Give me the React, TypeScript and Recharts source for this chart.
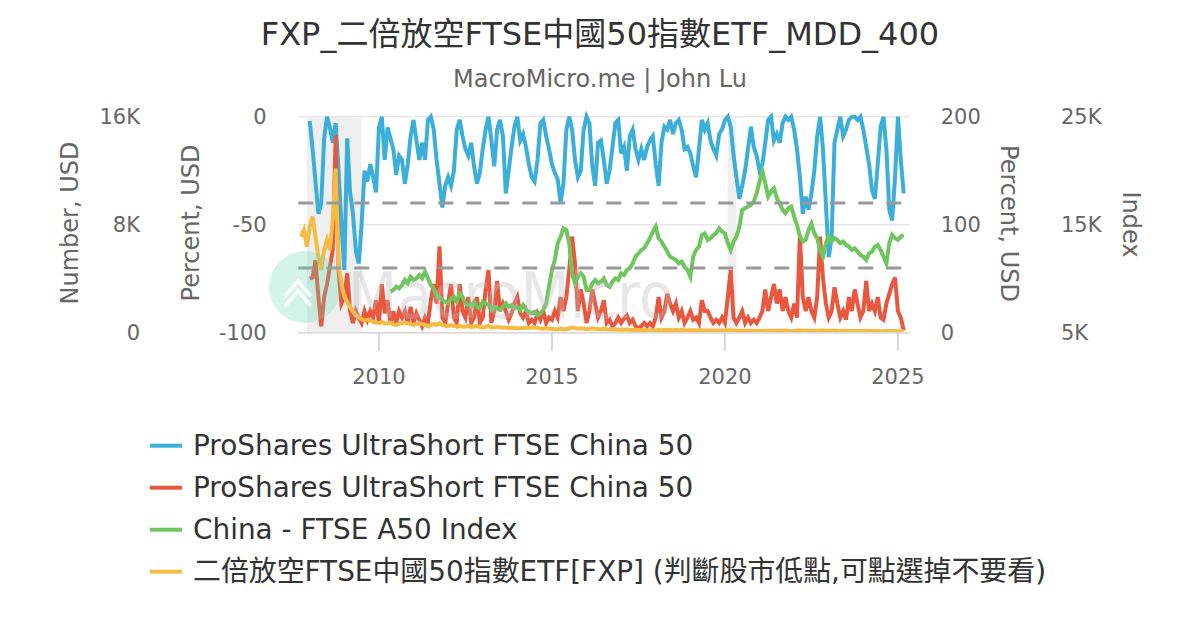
import React from "react";
import {
  LineChart,
  Line,
  XAxis,
  YAxis,
  CartesianGrid,
  ReferenceLine,
  ReferenceArea,
} from "recharts";

const FONT = '"DejaVu Sans", "Noto Sans CJK TC", sans-serif';

// ---------------------------------------------------------------------------
// Data (monthly, shared timeline starting Oct 2007)
// ---------------------------------------------------------------------------

const START_YEAR = 2007;
const START_MONTH = 10;

// index offsets into the shared timeline where each series begins
const MDD_START = 3; // Jan 2008
const REBOUND_START = 3; // Jan 2008
const A50_START = 31; // May 2010
const PRICE_START = 0; // Oct 2007

// ProShares UltraShort FTSE China 50 – max drawdown, %
const mdd = [
  -2, -15, -30, -45, -40, -10, 0, -5, -12, -3, -25, -50, // 2008
  -71, -10, -35, -45, -62, -68, -50, -25, -30, -22, -28, -35, // 2009
  -5, 0, -20, -5, -10, -15, -27, -18, -20, -31, -22, -9, // 2010
  -1.5, -11, -20, -12, -20, -1.5, 0, -6, -20, -31, -42, -32, // 2011
  -28, -32, -25, -6, -1.5, -9, -15, -18, -12, -23, -31, -26, // 2012
  -15, -6, 0, -11, -23, -6, -1.5, -9, -35.5, -25, -14, -4.6, // 2013
  0, -11, -8, -14, -22, -28, -30, -20, -3, -1.5, -9, -15, // 2014
  -22, -26, -29, -40, -31, -6, 0, -6, -20, -28, -25, -6, // 2015
  0, -3, -23, -32, -12, -11, -20, -31, -25, -14, -3, -1.5, // 2016
  -17, -14, -25, -9, -6, -15, -20, -15, -20, -14, -11, -9, // 2017
  -22, -32, -12, -4.6, -6, -1.5, -8, -3, -1.5, -6, -15, -14, // 2018
  -17, -23, -28, -15, -1.5, -6, -3, -11, -15, -18, -8, -6, // 2019
  -1.5, 0, -4.6, -18, -28, -38, -32, -25, -15, -4.6, -14, -18, // 2020
  -25, -22, -12, -1.5, 0, -11, -8, -12, -3, 0, -1.5, 0, // 2021
  -6, -15, -28, -45, -37, -43, -35.5, -25, -9, 0, -15, -40, // 2022
  -65, -56, -12, -6, 0, -9, -6, -1.5, 0, 0, -1.5, 0, // 2023
  -6, -14, -22, -34, -38, -22, -4.6, 0, -15, -43, -48, -28, // 2024
  0, -20, -35.5, // 2025
];

// ProShares UltraShort FTSE China 50 – rise from low, %
const rebound = [
  50, 51, 67, 33, 6, 33, 45, 61, 77, 183, 57, 27, // 2008
  33, 55, 20, 9, 20, 14, 9, 20, 12, 20, 14, 30, // 2009
  9, 45, 18, 30, 9, 20, 9, 20, 14, 20, 9, 24, // 2010
  9, 18, 12, 6, 14, 9, 30, 45, 27, 80, 14, 9, // 2011
  27, 45, 14, 9, 45, 20, 14, 33, 9, 14, 33, 9, // 2012
  14, 40, 58, 9, 20, 48, 20, 27, 20, 12, 18, 27, // 2013
  33, 18, 14, 20, 9, 12, 9, 18, 12, 20, 9, 14, // 2014
  12, 20, 14, 33, 20, 33, 58, 89, 64, 20, 40, 27, // 2015
  9, 20, 40, 27, 14, 20, 30, 9, 12, 6, 9, 14, // 2016
  9, 13, 16, 9, 12, 6, 4, 6, 9, 6, 9, 6, // 2017
  14, 33, 14, 20, 36, 27, 20, 27, 14, 20, 9, 14, // 2018
  20, 12, 14, 9, 30, 20, 20, 14, 9, 12, 9, 14, // 2019
  9, 33, 58, 14, 9, 14, 20, 9, 14, 9, 12, 9, // 2020
  14, 20, 40, 20, 33, 45, 27, 40, 20, 33, 20, 14, // 2021
  27, 14, 90, 33, 20, 33, 20, 14, 33, 89, 51, 27, // 2022
  14, 20, 42, 27, 14, 20, 12, 33, 20, 40, 27, 14, // 2023
  20, 48, 20, 27, 20, 33, 14, 12, 27, 36, 45, 51, // 2024
  20, 14, 2, // 2025
];

// China - FTSE A50 Index
const a50 = [
  8790, 8950, 9260, 9100, 9410, 9880, 9570, 10190, // 2010 (May-Dec)
  9880, 10030, 10340, 10030, 10650, 10030, 9410, 9100, 8330, 8330, 8020, 7870, // 2011
  7710, 8180, 8330, 7870, 8640, 8330, 7710, 7560, 7400, 7870, 7400, 7250, // 2012
  7870, 7710, 7560, 7100, 7400, 7250, 7100, 7400, 7710, 7400, 7560, 7250, // 2013
  7400, 7100, 7560, 7100, 6940, 6790, 6940, 6630, 6790, 7100, 7710, 9260, // 2014
  10810, 11730, 13280, 13890, 14660, 14510, 13280, 10500, 9570, 10190, 10500, 10190, // 2015
  8950, 8950, 9570, 9880, 9570, 9720, 10030, 9410, 9260, 9720, 10030, 9880, // 2016
  10500, 10340, 10810, 10960, 11420, 12040, 12350, 12660, 12820, 13280, 13750, 14360, // 2017
  14820, 13750, 13440, 12970, 12510, 12040, 11890, 11730, 11420, 11580, 11110, 10810, // 2018
  10190, 12040, 12660, 12970, 14050, 14200, 13590, 13750, 14050, 14200, 14660, 14360, // 2019
  14200, 13280, 12660, 13440, 13900, 14800, 16370, 16520, 16680, 16830, 17140, 17910, // 2020
  18990, 19920, 18840, 17600, 18060, 18370, 17450, 16980, 16370, 16060, 16520, 16680, // 2021
  15750, 14970, 13900, 13440, 13590, 14500, 15100, 14200, 13750, 12660, 12040, 13280, // 2022
  13900, 13440, 13750, 13590, 13280, 13440, 13130, 12970, 12660, 12820, 12510, 12200, // 2023
  12040, 11730, 12350, 12510, 12970, 13130, 12660, 12040, 11420, 13280, 14050, 13750, // 2024
  13590, 13900, 14050, // 2025
];

// FXP price, USD
const price = [
  7110, 7610, 6380, // 2007 (Oct-Dec)
  7850, 8600, 7110, 5630, 4640, 6120, 6870, 6120, 8350, 12180, 4890, 3650, // 2008
  2660, 2300, 1900, 1550, 1300, 1150, 1000, 900, 950, 900, 800, 750, // 2009
  700, 800, 690, 690, 750, 600, 580, 650, 690, 750, 690, 630, // 2010
  570, 630, 690, 630, 570, 510, 570, 630, 570, 690, 570, 510, // 2011
  510, 570, 510, 440, 510, 440, 440, 510, 440, 440, 510, 440, // 2012
  380, 440, 510, 380, 380, 440, 380, 380, 380, 350, 380, 350, // 2013
  320, 350, 350, 380, 350, 380, 380, 350, 320, 290, 320, 290, // 2014
  290, 260, 260, 290, 260, 260, 320, 380, 350, 290, 320, 290, // 2015
  260, 290, 320, 290, 260, 260, 290, 250, 240, 250, 230, 220, // 2016
  230, 220, 230, 210, 200, 210, 200, 190, 200, 190, 180, 190, // 2017
  180, 200, 190, 200, 210, 200, 190, 200, 190, 200, 190, 180, // 2018
  190, 180, 190, 170, 180, 170, 170, 160, 170, 170, 160, 160, // 2019
  160, 170, 180, 160, 150, 150, 150, 140, 140, 140, 140, 130, // 2020
  130, 130, 140, 130, 140, 150, 140, 140, 140, 140, 130, 130, // 2021
  140, 140, 160, 150, 150, 150, 140, 140, 150, 170, 160, 150, // 2022
  150, 140, 150, 140, 130, 130, 120, 130, 120, 130, 120, 120, // 2023
  120, 140, 120, 120, 120, 130, 110, 110, 120, 120, 130, 130, // 2024
  110, 100, 100, // 2025
];

const yearTicks = [2010, 2015, 2020, 2025];
const numberTicks = [0, 8000, 16000];
const percentTicks = [-100, -50, 0];
const percentRightTicks = [0, 100, 200];
const indexTicks = [5000, 15000, 25000];
const mddLevels = [-40, -70];
// shaded periods (decimal years)
const shadedPeriods = [
  [2007.92, 2009.5],
  [2020.08, 2020.33],
];

const seriesNames = [
  "ProShares UltraShort FTSE China 50",
  "ProShares UltraShort FTSE China 50",
  "China - FTSE A50 Index",
  "二倍放空FTSE中國50指數ETF[FXP] (判斷股市低點,可點選掉不要看)",
];
const seriesColors = ["#3BAFDA", "#E9573F", "#6FC65E", "#F6BB42"];

// ---------------------------------------------------------------------------
// Build table
// ---------------------------------------------------------------------------

function pick(arr: number[], i: number): number | null {
  return i >= 0 && i < arr.length ? arr[i] : null;
}

const chartData = price.map((_, k) => ({
  t: START_YEAR + (START_MONTH - 1 + k) / 12,
  mdd: pick(mdd, k - MDD_START),
  rebound: pick(rebound, k - REBOUND_START),
  a50: pick(a50, k - A50_START),
  price: pick(price, k - PRICE_START),
}));

const kFormat = (v: number) => (v === 0 ? "0" : `${v / 1000}K`);

const tickStyle = { fill: "#666666", fontSize: 21, fontFamily: FONT };

const LINE_W = 4;

// axis ids: recharts stacks same-side axes by id, "1" nearest the plot
const PCT_L = "l1"; // Percent (MDD), inner left
const NUM_L = "l2"; // Number, outer left
const PCT_R = "r1"; // Percent (rebound), inner right
const IDX_R = "r2"; // Index, outer right

// ---------------------------------------------------------------------------
// Component
// ---------------------------------------------------------------------------

export default function App() {
  return (
    <div
      style={{
        position: "absolute",
        left: 0,
        top: 0,
        width: 1200,
        height: 630,
        background: "#ffffff",
        fontFamily: FONT,
        overflow: "hidden",
      }}
    >
      <LineChart
        width={1200}
        height={400}
        data={chartData}
        margin={{ top: 116.7, right: 90.3, bottom: 17.3, left: 78.3 }}
      >
        <CartesianGrid
          yAxisId={PCT_L}
          vertical={false}
          stroke="#e6e6e6"
          strokeWidth={1.5}
        />
        <XAxis
          dataKey="t"
          type="number"
          domain={[2007.67, 2025.34]}
          ticks={yearTicks}
          allowDataOverflow
          height={50}
          tickSize={18}
          tickMargin={18}
          axisLine={{ stroke: "#d9d9d9", strokeWidth: 1.5 }}
          tickLine={{ stroke: "#cccccc", strokeWidth: 1.5 }}
          tick={tickStyle}
          tickFormatter={(v: number) => String(v)}
        />
        <YAxis
          yAxisId={PCT_L}
          orientation="left"
          width={100}
          domain={[-100, 0]}
          ticks={percentTicks}
          axisLine={false}
          tickLine={false}
          tickSize={0}
          tickMargin={31.6}
          tick={tickStyle}
        />
        <YAxis
          yAxisId={NUM_L}
          orientation="left"
          width={120}
          domain={[0, 16000]}
          ticks={numberTicks}
          axisLine={false}
          tickLine={false}
          tickSize={0}
          tickMargin={58.3}
          tick={tickStyle}
          tickFormatter={kFormat}
        />
        <YAxis
          yAxisId={PCT_R}
          orientation="right"
          width={100}
          domain={[0, 200]}
          ticks={percentRightTicks}
          axisLine={false}
          tickLine={false}
          tickSize={0}
          tickMargin={31}
          tick={tickStyle}
        />
        <YAxis
          yAxisId={IDX_R}
          orientation="right"
          width={100}
          domain={[5000, 25000]}
          ticks={indexTicks}
          axisLine={false}
          tickLine={false}
          tickSize={0}
          tickMargin={51.3}
          tick={tickStyle}
          tickFormatter={kFormat}
        />
        {shadedPeriods.map(([a, b]) => (
          <ReferenceArea
            key={a}
            yAxisId={PCT_L}
            x1={a}
            x2={b}
            fill="#efefef"
            fillOpacity={1}
            stroke="none"
          />
        ))}
        <Line
          yAxisId={PCT_L}
          dataKey="mdd"
          stroke={seriesColors[0]}
          strokeWidth={LINE_W}
          dot={false}
          type="linear"
          isAnimationActive={false}
        />
        <Line
          yAxisId={PCT_R}
          dataKey="rebound"
          stroke={seriesColors[1]}
          strokeWidth={LINE_W}
          dot={false}
          type="linear"
          isAnimationActive={false}
        />
        <Line
          yAxisId={IDX_R}
          dataKey="a50"
          stroke={seriesColors[2]}
          strokeWidth={LINE_W}
          dot={false}
          type="linear"
          isAnimationActive={false}
        />
        <Line
          yAxisId={NUM_L}
          dataKey="price"
          stroke={seriesColors[3]}
          strokeWidth={LINE_W}
          dot={false}
          type="linear"
          isAnimationActive={false}
        />
        {mddLevels.map((v) => (
          <ReferenceLine
            key={v}
            yAxisId={PCT_L}
            y={v}
            stroke="#999999"
            strokeWidth={3}
            strokeDasharray="15 13"
          />
        ))}
      </LineChart>

      {/* titles, axis titles, legend and watermark */}
      <svg
        width={1200}
        height={630}
        style={{ position: "absolute", left: 0, top: 0, pointerEvents: "none" }}
      >
        <g>
          <circle cx={305} cy={287} r={36} fill="rgba(100, 215, 180, 0.28)" />
          <polyline
            points="285,296 298,281 311,296"
            fill="none"
            stroke="rgba(255,255,255,0.85)"
            strokeWidth={3.5}
          />
          <polyline
            points="285,306 298,291 311,306"
            fill="none"
            stroke="rgba(255,255,255,0.85)"
            strokeWidth={3.5}
          />
          <text
            x={348}
            y={318}
            fontSize={64}
            fontFamily={FONT}
            fill="rgba(185, 185, 185, 0.35)"
            textLength={326}
            lengthAdjust="spacingAndGlyphs"
          >
            MacroMicro
          </text>
        </g>

        <text x={600} y={45} textAnchor="middle" fontSize={32} fill="#333333" fontFamily={FONT}>
          FXP_二倍放空FTSE中國50指數ETF_MDD_400
        </text>
        <text x={600} y={87} textAnchor="middle" fontSize={24} fill="#666666" fontFamily={FONT}>
          MacroMicro.me | John Lu
        </text>

        <text
          transform="translate(77.5,223) rotate(-90)"
          textAnchor="middle"
          fontSize={24}
          fill="#666666"
          fontFamily={FONT}
        >
          Number, USD
        </text>
        <text
          transform="translate(199,223) rotate(-90)"
          textAnchor="middle"
          fontSize={24}
          fill="#666666"
          fontFamily={FONT}
        >
          Percent, USD
        </text>
        <text
          transform="translate(1001,223.5) rotate(90)"
          textAnchor="middle"
          fontSize={24}
          fill="#666666"
          fontFamily={FONT}
        >
          Percent, USD
        </text>
        <text
          transform="translate(1122.5,224.5) rotate(90)"
          textAnchor="middle"
          fontSize={24}
          fill="#666666"
          fontFamily={FONT}
        >
          Index
        </text>

        {seriesNames.map((name, i) => {
          const cy = 445.7 + i * 42;
          return (
            <g key={i}>
              <line x1={150} x2={182} y1={cy} y2={cy} stroke={seriesColors[i]} strokeWidth={4} />
              <text x={193} y={cy + 9.5} fontSize={27.9} fill="#333333" fontFamily={FONT}>
                {name}
              </text>
            </g>
          );
        })}
      </svg>
    </div>
  );
}
